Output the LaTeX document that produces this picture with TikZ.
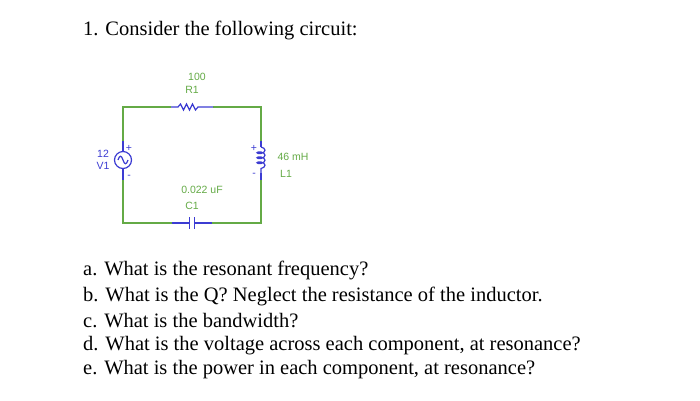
\documentclass[tikz,border=0pt]{standalone}
\usepackage{fontspec}
\setmainfont{Liberation Serif}
\newfontfamily\lab{Liberation Sans}
\usetikzlibrary{decorations.pathmorphing}
\definecolor{wg}{RGB}{100,170,70}
\definecolor{cb}{RGB}{60,60,210}
\tikzset{wire/.style={wg,line width=1.2pt},comp/.style={cb,line width=1.2pt},
 lbl/.style={font=\lab\fontsize{10.5}{12}\selectfont,inner sep=0pt},
 qtext/.style={font=\fontsize{20.5}{22}\selectfont,anchor=west,inner sep=0pt}}
\begin{document}
\begin{tikzpicture}[x=1pt,y=-1pt]
\useasboundingbox (0,0) rectangle (700,400);
% wires
\coordinate (tl) at (123,107); \coordinate (tr) at (261,107);
\coordinate (bl) at (123,223); \coordinate (br) at (261,223);
\coordinate (ra) at (171,107); \coordinate (rb) at (213,107);
\coordinate (ca) at (172,223); \coordinate (cb2) at (212,223);
\coordinate (va) at (123,141); \coordinate (vb) at (123,180);
\coordinate (la) at (261,141); \coordinate (lb) at (261,180);
\draw[wire] (va) -- (tl) -- (ra);
\draw[wire] (rb) -- (tr) -- (la);
\draw[wire] (lb) -- (br) -- (cb2);
\draw[wire] (ca) -- (bl) -- (vb);
% resistor
\draw[comp] (ra) -- (178,107) -- (180.5,104) -- (183.5,110) -- (186.5,104) -- (189.5,110) -- (192.5,104) -- (195.5,110) -- (198,107) -- (rb);
% capacitor
\draw[comp] (ca) -- (189.5,223) (194.5,223) -- (cb2);
\draw[comp] (189.5,217) -- (189.5,229) (194.5,217) -- (194.5,229);
% source
\node[draw=cb,circle,line width=1.2pt,minimum size=17pt,inner sep=0pt] (v1) at (123,160) {};
\draw[comp] (va) -- (v1.north) (v1.south) -- (vb);
\draw[comp] (118,160) .. controls (119.5,155) and (121.5,155) .. (123,160) .. controls (124.5,165) and (126.5,165) .. (128,160);
% inductor
\draw[comp] (la) -- (261,147);
\draw[comp,decorate,decoration={coil,aspect=0.5,segment length=5pt,amplitude=4pt}] (261,147) -- (261,173);
\draw[comp] (261,173) -- (lb);
% labels
\node[lbl,text=wg] (r1v) at (197,77) {100};
\node[lbl,text=wg] (r1n) at (192,90) {R1};
\node[lbl,text=cb] (v1v) at (103,154) {12};
\node[lbl,text=cb] (v1n) at (103,166) {V1};
\node[lbl,text=cb] at (129,148) {+};
\node[lbl,text=cb] at (129,177) {-};
\node[lbl,text=cb] at (254,148) {+};
\node[lbl,text=cb] at (254,175) {-};
\node[lbl,text=wg] (l1v) at (293,157) {46 mH};
\node[lbl,text=wg] (l1n) at (286,174) {L1};
\node[lbl,text=wg] (c1v) at (202,190) {0.022 uF};
\node[lbl,text=wg] (c1n) at (192,206) {C1};
% text
\node[qtext] (t) at (83,30) {1. Consider the following circuit:};
\node[qtext] (qa) at (83,270) {a. What is the resonant frequency?};
\node[qtext] (qb) at (83,296) {b. What is the Q? Neglect the resistance of the inductor.};
\node[qtext] (qc) at (83,321) {c. What is the bandwidth?};
\node[qtext] (qd) at (83,346) {d. What is the voltage across each component, at resonance?};
\node[qtext] (qe) at (83,370) {e. What is the power in each component, at resonance?};
\end{tikzpicture}
\end{document}
